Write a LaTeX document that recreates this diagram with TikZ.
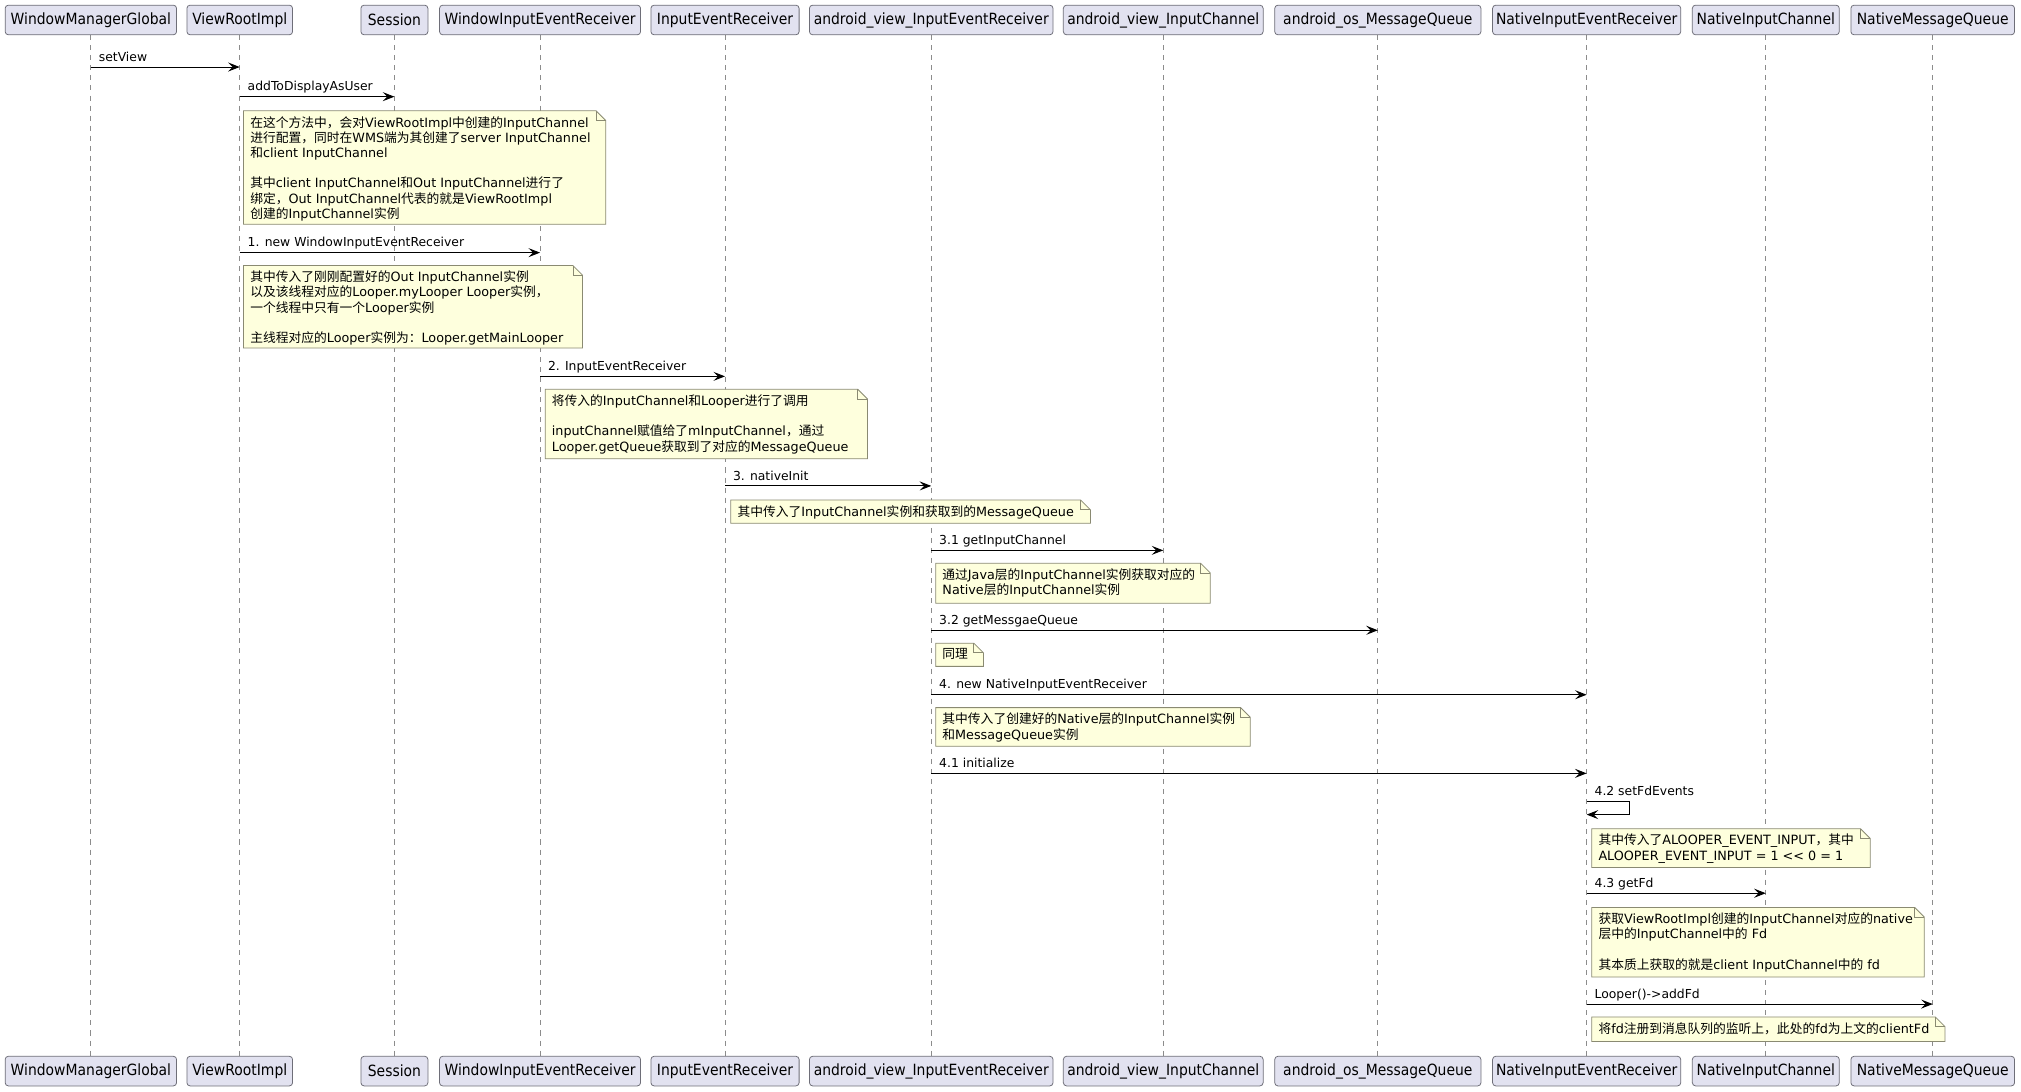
\documentclass[tikz,border=0pt]{standalone}
\usepackage{fontspec}
\setmainfont{DejaVu Sans}
\newfontfamily\zhfont{Noto Sans CJK SC}
\newfontfamily\hdrfont[FakeStretch=0.9]{DejaVu Sans}
\newcommand\zh[1]{{\zhfont #1}}
\usetikzlibrary{arrows.meta,calc}
\pgfdeclarelayer{back}
\pgfdeclarelayer{bg}
\pgfsetlayers{back,bg,main}
\definecolor{hdrfill}{HTML}{E2E2F0}
\definecolor{hdrline}{HTML}{6E6E78}
\definecolor{notefill}{HTML}{FEFFDD}
\definecolor{noteline}{HTML}{8A8A72}
\definecolor{lifecol}{HTML}{8C8C8C}
\tikzset{
  hdr/.style={draw=hdrline, fill=hdrfill, rounded corners=2.5pt, line width=0.6pt,
    minimum height=23pt, inner sep=0pt, font=\hdrfont\fontsize{12}{14}\selectfont},
  lifeline/.style={draw=lifecol, line width=0.6pt, dash pattern=on 3.9pt off 3.9pt},
  msg/.style={draw=black, line width=0.8pt, -{Stealth[length=9pt,width=7pt,inset=3.5pt]}},
  lbl/.style={font=\fontsize{9.6}{11}\selectfont, inner sep=0pt, anchor=base west},
  notetext/.style={anchor=north west, align=left, inner xsep=5pt, inner ysep=4pt,
    font=\fontsize{9.9}{11.8}\selectfont},
  noteshape/.style={draw=noteline, fill=notefill, line width=0.6pt, line join=miter},
}
\newcommand\mknote[6]{%
  \node[notetext] (#1) at (#2,#3) {#6};
  \begin{pgfonlayer}{bg}
    \draw[noteshape] (#1.north west) -- ++(#4-7.5,0) -- ++(7.5,7.5) -- ++(0,#5-7.5) -- ++(-#4,0) -- cycle;
    \draw[noteshape,fill=none] ($(#1.north west)+(#4-7.5,0)$) -- ++(0,7.5) -- ++(7.5,0);
  \end{pgfonlayer}}
\begin{document}
\begin{tikzpicture}[x=1pt,y=-1pt]
\begin{pgfonlayer}{back}
\fill[white] (0,0) rectangle (1568,847);
\end{pgfonlayer}
\useasboundingbox (0,0) rectangle (1568,847);

% participants (top)
\node[hdr, minimum width=133pt] (t1) at (70.5,15.5) {WindowManagerGlobal};
\node[hdr, minimum width=82pt] (t2) at (186,15.5) {ViewRootImpl};
\node[hdr, minimum width=52pt] (t3) at (306,15.5) {Session};
\node[hdr, minimum width=156pt] (t4) at (419,15.5) {WindowInputEventReceiver};
\node[hdr, minimum width=115pt] (t5) at (562.5,15.5) {InputEventReceiver};
\node[hdr, minimum width=189pt] (t6) at (722.5,15.5) {android\_view\_InputEventReceiver};
\node[hdr, minimum width=155pt] (t7) at (902.5,15.5) {android\_view\_InputChannel};
\node[hdr, minimum width=160pt] (t8) at (1069,15.5) {android\_os\_MessageQueue};
\node[hdr, minimum width=146pt] (t9) at (1231,15.5) {NativeInputEventReceiver};
\node[hdr, minimum width=114pt] (t10) at (1370,15.5) {NativeInputChannel};
\node[hdr, minimum width=127pt] (t11) at (1499.5,15.5) {NativeMessageQueue};

% participants (bottom)
\node[hdr, minimum width=133pt] (b1) at (70.5,831) {WindowManagerGlobal};
\node[hdr, minimum width=82pt] (b2) at (186,831) {ViewRootImpl};
\node[hdr, minimum width=52pt] (b3) at (306,831) {Session};
\node[hdr, minimum width=156pt] (b4) at (419,831) {WindowInputEventReceiver};
\node[hdr, minimum width=115pt] (b5) at (562.5,831) {InputEventReceiver};
\node[hdr, minimum width=189pt] (b6) at (722.5,831) {android\_view\_InputEventReceiver};
\node[hdr, minimum width=155pt] (b7) at (902.5,831) {android\_view\_InputChannel};
\node[hdr, minimum width=160pt] (b8) at (1069,831) {android\_os\_MessageQueue};
\node[hdr, minimum width=146pt] (b9) at (1231,831) {NativeInputEventReceiver};
\node[hdr, minimum width=114pt] (b10) at (1370,831) {NativeInputChannel};
\node[hdr, minimum width=127pt] (b11) at (1499.5,831) {NativeMessageQueue};

% lifelines
\begin{pgfonlayer}{bg}
\foreach \i in {1,...,11} { \draw[lifeline] (t\i.south) -- (b\i.north); }
\end{pgfonlayer}

% messages
\draw[msg] (t1 |- 0,52) -- (t2 |- 0,52);
\node[lbl] (l1) at ($(t1 |- 0,47.5)+(6,0)$) {setView};

\draw[msg] (t2 |- 0,75) -- (t3 |- 0,75);
\node[lbl] (l2) at ($(t2 |- 0,70.5)+(6,0)$) {addToDisplayAsUser};

\mknote{n1}{189}{86}{281}{88}{\zh{在这个方法中，会对}ViewRootImpl\zh{中创建的}InputChannel\\
\zh{进行配置，同时在}WMS\zh{端为其创建了}server InputChannel\\
\zh{和}client InputChannel\\[11.8pt]
\zh{其中}client InputChannel\zh{和}Out InputChannel\zh{进行了}\\
\zh{绑定，}Out InputChannel\zh{代表的就是}ViewRootImpl\\
\zh{创建的}InputChannel\zh{实例}}

\draw[msg] (t2 |- 0,196) -- (t4 |- 0,196);
\node[lbl] (l3) at ($(t2 |- 0,191.5)+(6,0)$) {1. new WindowInputEventReceiver};

\mknote{n2}{189}{206}{263}{64}{\zh{其中传入了刚刚配置好的}Out InputChannel\zh{实例}\\
\zh{以及该线程对应的}Looper.myLooper Looper\zh{实例，}\\
\zh{一个线程中只有一个}Looper\zh{实例}\\[11.8pt]
\zh{主线程对应的}Looper\zh{实例为：}Looper.getMainLooper}

\draw[msg] (t4 |- 0,292) -- (t5 |- 0,292);
\node[lbl] (l4) at ($(t4 |- 0,287.5)+(6,0)$) {2. InputEventReceiver};

\mknote{n3}{423}{302}{250}{54}{\zh{将传入的}InputChannel\zh{和}Looper\zh{进行了调用}\\[11.8pt]
inputChannel\zh{赋值给了}mInputChannel\zh{，通过}\\
Looper.getQueue\zh{获取到了对应的}MessageQueue}

\draw[msg] (t5 |- 0,377) -- (t6 |- 0,377);
\node[lbl] (l5) at ($(t5 |- 0,372.5)+(6,0)$) {3. nativeInit};

\mknote{n4}{567}{388}{279}{18}{\zh{其中传入了}InputChannel\zh{实例和获取到的}MessageQueue}

\draw[msg] (t6 |- 0,427) -- (t7 |- 0,427);
\node[lbl] (l6) at ($(t6 |- 0,422.5)+(6,0)$) {3.1 getInputChannel};

\mknote{n5}{726}{437}{213}{31}{\zh{通过}Java\zh{层的}InputChannel\zh{实例获取对应的}\\
Native\zh{层的}InputChannel\zh{实例}}

\draw[msg] (t6 |- 0,489) -- (t8 |- 0,489);
\node[lbl] (l7) at ($(t6 |- 0,484.5)+(6,0)$) {3.2 getMessgaeQueue};

\mknote{n6}{726}{499}{37}{18}{\zh{同理}}

\draw[msg] (t6 |- 0,539) -- (t9 |- 0,539);
\node[lbl] (l8) at ($(t6 |- 0,534.5)+(6,0)$) {4. new NativeInputEventReceiver};

\mknote{n7}{726}{549}{244}{30}{\zh{其中传入了创建好的}Native\zh{层的}InputChannel\zh{实例}\\
\zh{和}MessageQueue\zh{实例}}

\draw[msg] (t6 |- 0,600) -- (t9 |- 0,600);
\node[lbl] (l9) at ($(t6 |- 0,595.5)+(6,0)$) {4.1 initialize};

\draw[msg] (t9 |- 0,622) -- ++(33,0) -- ++(0,10) -- (t9 |- 0,632);
\node[lbl] (l10) at ($(t9 |- 0,617.5)+(6,0)$) {4.2 setFdEvents};

\mknote{n8}{1235}{643}{216}{30}{\zh{其中传入了}ALOOPER\_EVENT\_INPUT\zh{，其中}\\
ALOOPER\_EVENT\_INPUT = 1 <{}< 0 = 1}

\draw[msg] (t9 |- 0,693) -- (t10 |- 0,693);
\node[lbl] (l11) at ($(t9 |- 0,688.5)+(6,0)$) {4.3 getFd};

\mknote{n9}{1235}{704}{258}{54}{\zh{获取}ViewRootImpl\zh{创建的}InputChannel\zh{对应的}native\\
\zh{层中的}InputChannel\zh{中的} Fd\\[11.8pt]
\zh{其本质上获取的就是}client InputChannel\zh{中的} fd}

\draw[msg] (t9 |- 0,779) -- (t11 |- 0,779);
\node[lbl] (l12) at ($(t9 |- 0,774.5)+(6,0)$) {Looper()->addFd};

\mknote{n10}{1235}{789}{274}{19}{\zh{将}fd\zh{注册到消息队列的监听上，此处的}fd\zh{为上文的}clientFd}

\end{tikzpicture}
\end{document}
